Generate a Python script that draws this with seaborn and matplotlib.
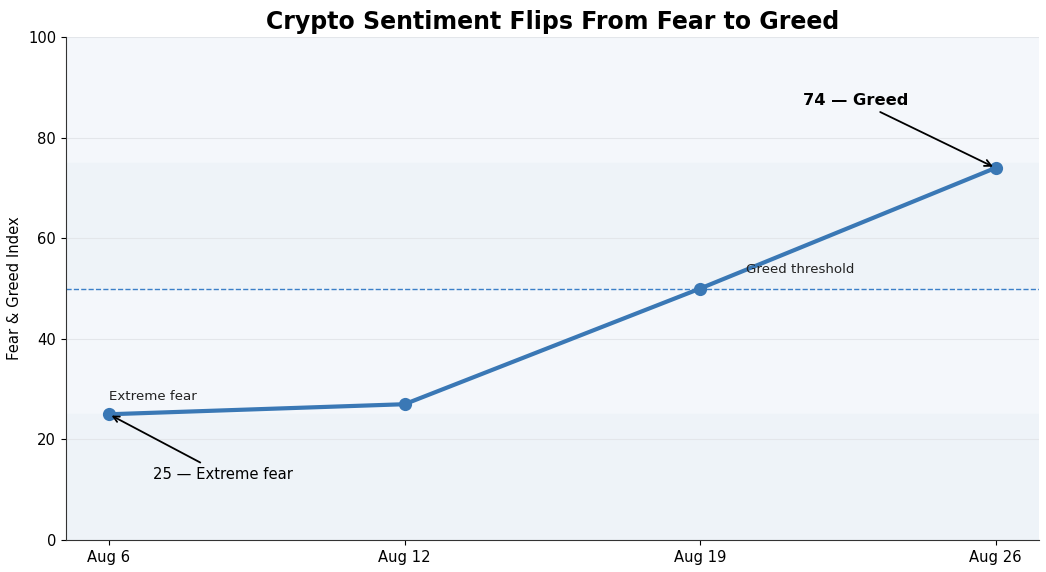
import matplotlib
matplotlib.use("Agg")
import matplotlib.pyplot as plt
import seaborn as sns
import pandas as pd

dates = ["Aug 6", "Aug 12", "Aug 19", "Aug 26"]
index_values = [25, 27, 50, 74]
greed_threshold = 50

df = pd.DataFrame({"date": dates, "value": index_values})
df["pos"] = range(len(dates))

sns.set_style("ticks")
plt.rcParams['font.family'] = ['DejaVu Sans']
plt.rcParams['font.sans-serif'] = ['DejaVu Sans']
plt.rcParams.update({"text.color": "black", "axes.labelcolor": "black",
                     "xtick.color": "black", "ytick.color": "black",
                     "axes.edgecolor": "#333333"})

fig, ax = plt.subplots(figsize=(10.46, 5.72), dpi=100)
ax.set_facecolor("#f4f7fb")

# 배경 구간
ax.axhspan(0, 25, color="#eef3f8", zorder=0)
ax.axhspan(50, 75, color="#eef3f8", zorder=0)
ax.yaxis.grid(True, color="#e3e6ea", linewidth=0.8)
ax.set_axisbelow(True)

line_color = "#3a78b5"
sns.lineplot(data=df, x="pos", y="value", ax=ax, color=line_color,
             linewidth=3, marker="o", markersize=9.5, markeredgewidth=0, zorder=3)

ax.axhline(greed_threshold, color="#3b7fc8", linestyle="--", linewidth=1, zorder=2)
ax.text(2.155, 53, "Greed threshold", fontsize=9.6, color="#222222")
ax.text(0, 27.8, "Extreme fear", fontsize=9.6, color="#222222")

ax.annotate("25 — Extreme fear", xy=(0, 25), xytext=(0.386, 13),
            fontsize=10.6, ha="center", va="center",
            arrowprops=dict(arrowstyle="->", color="black", lw=1.3))
ax.annotate("74 — Greed", xy=(3, 74), xytext=(2.526, 87.5),
            fontsize=11.7, fontweight="bold", ha="center", va="center",
            arrowprops=dict(arrowstyle="->", color="black", lw=1.3))

ax.set_xticks(df["pos"])
ax.set_xticklabels(dates)
ax.tick_params(labelsize=10.6)
ax.set_xlim(-0.146, 3.146)
ax.set_ylim(0, 100)
ax.set_xlabel("")
ax.set_ylabel("Fear & Greed Index", fontsize=10.6)
ax.set_title("Crypto Sentiment Flips From Fear to Greed", fontsize=17, fontweight="bold")
sns.despine(ax=ax)

fig.subplots_adjust(left=0.063, right=0.993, top=0.935, bottom=0.056)
fig.savefig("out.png", dpi=100)
